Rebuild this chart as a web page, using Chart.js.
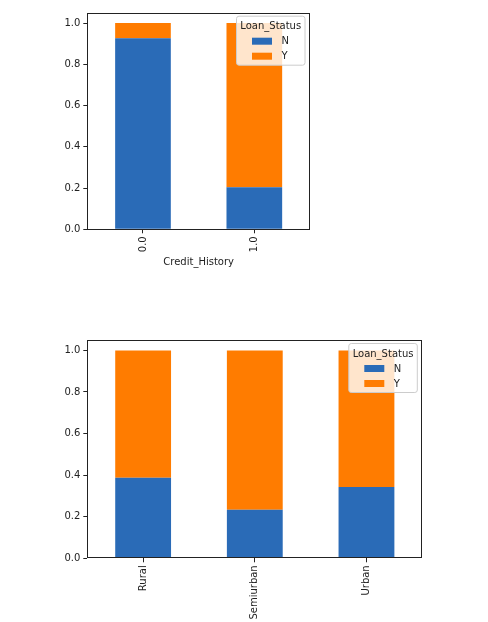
<!DOCTYPE html>
<html>
<head>
<meta charset="utf-8">
<script src="https://cdn.jsdelivr.net/npm/chart.js@4/dist/chart.umd.min.js"></script>
<style>
  html, body { margin: 0; padding: 0; background: #ffffff; }
  body { width: 488px; height: 622px; position: relative; overflow: hidden; }
  canvas { position: absolute; left: 0; }
</style>
</head>
<body>
<canvas id="c1" width="320" height="268" style="top:0px;width:320px;height:268px"></canvas>
<canvas id="c2" width="440" height="292" style="top:330px;width:440px;height:292px"></canvas>
<script>
// ---- data ----
const creditCategories = ['0.0', '1.0'];
const creditN = [0.926, 0.204];
const creditY = [0.074, 0.796];
const creditAxisTitle = 'Credit_History';

const areaCategories = ['Rural', 'Semiurban', 'Urban'];
const areaN = [0.388, 0.233, 0.343];
const areaY = [0.612, 0.767, 0.657];

const seriesLabels = ['N', 'Y'];
const legendTitle = 'Loan_Status';
const yTickValues = [0.0, 0.2, 0.4, 0.6, 0.8, 1.0];
const yTickLabels = ['0.0', '0.2', '0.4', '0.6', '0.8', '1.0'];

const BLUE = '#2a6bb7';
const ORANGE = '#ff7c00';
const FONT = 'DejaVu Sans';

const framePlugin = {
  id: 'frame',
  afterDraw(chart) {
    const a = chart.chartArea, ctx = chart.ctx;
    ctx.save();
    ctx.strokeStyle = '#222';
    ctx.lineWidth = 1;
    ctx.strokeRect(Math.round(a.left) + 0.5, Math.round(a.top) + 0.5,
                   Math.round(a.right - a.left) - 1, Math.round(a.bottom - a.top) - 1);
    ctx.restore();
  }
};

const legendBoxPlugin = {
  id: 'legendBox',
  afterDatasetsDraw(chart) {
    const a = chart.chartArea, ctx = chart.ctx;
    const w = 68.5, h = 49;
    const left = a.right - 5 - w, top = a.top + 3.5;
    ctx.save();
    ctx.beginPath();
    const r = 2.5;
    ctx.moveTo(left + r, top);
    ctx.lineTo(left + w - r, top);
    ctx.quadraticCurveTo(left + w, top, left + w, top + r);
    ctx.lineTo(left + w, top + h - r);
    ctx.quadraticCurveTo(left + w, top + h, left + w - r, top + h);
    ctx.lineTo(left + r, top + h);
    ctx.quadraticCurveTo(left, top + h, left, top + h - r);
    ctx.lineTo(left, top + r);
    ctx.quadraticCurveTo(left, top, left + r, top);
    ctx.closePath();
    ctx.fillStyle = 'rgba(255,255,255,0.8)';
    ctx.fill();
    ctx.strokeStyle = '#cccccc';
    ctx.lineWidth = 1;
    ctx.stroke();
    ctx.fillStyle = '#222';
    ctx.font = '10px "' + FONT + '"';
    ctx.textAlign = 'center';
    ctx.textBaseline = 'middle';
    ctx.fillText(legendTitle, left + w / 2, top + 10.5);
    chart.data.datasets.forEach((ds, i) => {
      const cy = top + 25 + i * 15;
      ctx.fillStyle = ds.backgroundColor;
      ctx.fillRect(left + 15.5, cy - 3.5, 20, 7);
      ctx.fillStyle = '#222';
      ctx.textAlign = 'left';
      ctx.fillText(ds.label, left + 45, cy + 0.5);
    });
    ctx.restore();
  }
};

function makeChart(id, cats, nVals, yVals, xTitle, pad, xHeight) {
  return new Chart(document.getElementById(id), {
    type: 'bar',
    data: {
      labels: cats,
      datasets: [
        { label: seriesLabels[0], data: nVals, backgroundColor: BLUE, barPercentage: 0.5, categoryPercentage: 1.0, borderWidth: 0 },
        { label: seriesLabels[1], data: yVals, backgroundColor: ORANGE, barPercentage: 0.5, categoryPercentage: 1.0, borderWidth: 0 }
      ]
    },
    options: {
      responsive: false,
      animation: false,
      devicePixelRatio: 1,
      layout: { padding: pad },
      plugins: { legend: { display: false }, tooltip: { enabled: false } },
      scales: {
        x: {
          stacked: true,
          grid: { drawOnChartArea: false, tickLength: 4, color: '#222', offset: false },
          border: { display: false },
          ticks: { minRotation: 90, maxRotation: 90, color: '#222', padding: 3,
                   font: { family: FONT, size: 10 } },
          title: { display: !!xTitle, text: xTitle || '', color: '#222', padding: 0,
                   font: { family: FONT, size: 10 } },
          afterFit(s) { s.height = xHeight; }
        },
        y: {
          stacked: true,
          min: 0, max: 1.05,
          grid: { drawOnChartArea: false, tickLength: 4, color: '#222' },
          border: { display: false },
          ticks: { color: '#222', padding: 3, font: { family: FONT, size: 10 },
                   callback: (v, i) => yTickLabels[yTickValues.indexOf(Math.round(v * 10) / 10)] },
          afterBuildTicks(s) { s.ticks = yTickValues.map(v => ({ value: v })); },
          afterFit(s) { s.width = 87.3; }
        }
      }
    },
    plugins: [framePlugin, legendBoxPlugin]
  });
}

makeChart('c1', creditCategories, creditN, creditY, creditAxisTitle,
          { left: 0, right: 10, top: 12.7, bottom: 0 }, 38.7);
makeChart('c2', areaCategories, areaN, areaY, null,
          { left: 0, right: 17.7, top: 10, bottom: 0 }, 63.7);
</script>
</body>
</html>
